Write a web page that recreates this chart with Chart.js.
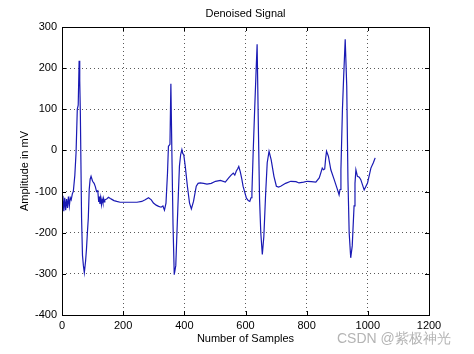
<!DOCTYPE html>
<html>
<head>
<meta charset="utf-8">
<script src="https://cdn.jsdelivr.net/npm/chart.js@4/dist/chart.umd.min.js"></script>
<style>
  html, body { margin: 0; padding: 0; background: #fff; }
  #wrap { position: relative; width: 474px; height: 354px; }
  #mark {
    position: absolute; left: 337px; top: 330px;
    font: 14px "Liberation Sans", Arial, sans-serif; color: #b4b4b4;
    white-space: nowrap;
  }
</style>
</head>
<body>
<div id="wrap">
  <canvas id="sig_chart" width="474" height="354"></canvas>
  <div id="mark">CSDN @紫极神光</div>
</div>
<script>
'use strict'

// sample index and amplitude (mV)
const samples = [0,3,6,9,12,15,18,21,24,27,30,34,37,42,46,50,53,56,58,60,64,67,70,73,77,80,83,86,89,92,95,100,105,109,113,117,120,122,124,126,129,131,134,136,138,140,146,152,158,163,170,179,190,201,220,245,261,272,283,292,299,308,316,324,330,335,340,345,348,353,356,359,363,367,372,379,384,388,392,395,398,403,410,417,423,430,439,445,452,463,474,488,502,518,534,545,553,560,565,570,574,578,583,588,592,597,603,609,614,618,621,625,630,634,638,642,646,650,655,660,666,671,677,684,693,701,708,715,731,748,765,775,790,802,815,830,841,846,851,855,859,862,865,871,879,890,901,906,909,912,917,921,926,931,935,939,944,949,955,958,961,966,972,977,988,999,1010,1018,1024];
const amplitude = [-130,-110,-148,-115,-145,-118,-140,-112,-135,-115,-120,-105,-100,-60,-5,100,110,218,170,90,-165,-255,-280,-297,-270,-240,-200,-165,-95,-70,-63,-75,-80,-88,-100,-98,-125,-112,-130,-115,-132,-118,-128,-117,-125,-120,-118,-114,-117,-119,-122,-124,-126,-126,-126,-126,-124,-120,-115,-120,-128,-133,-136,-138,-135,-145,-128,-55,10,15,162,10,-180,-302,-280,-135,-38,-10,2,-8,-10,-38,-87,-128,-142,-124,-87,-80,-79,-80,-82,-80,-75,-73,-77,-67,-60,-55,-60,-50,-45,-39,-52,-70,-87,-100,-116,-122,-124,-115,-103,-6,100,180,258,60,-120,-200,-253,-209,-103,-30,-2,-23,-63,-87,-89,-87,-80,-75,-76,-79,-77,-75,-76,-77,-67,-55,-43,-47,-45,-20,-2,-14,-47,-71,-96,-108,-95,-47,100,180,270,157,-71,-200,-261,-232,-135,-80,-47,-63,-65,-71,-96,-79,-43,-30,-18];

const x_ticks = [0,200,400,600,800,1000,1200];
const y_ticks = [-400,-300,-200,-100,0,100,200,300];

const font = {family: '"Liberation Sans", Arial, sans-serif', size: 11};

// matlab style box with inward ticks
const boxPlugin = {
    id: 'box',
    afterDraw(chart) {
        const {ctx, chartArea: a, scales} = chart;
        ctx.save();
        ctx.strokeStyle = '#000';
        ctx.lineWidth = 1;
        ctx.setLineDash([]);
        ctx.strokeRect(Math.round(a.left) + 0.5, Math.round(a.top) + 0.5,
            Math.round(a.right - a.left), Math.round(a.bottom - a.top));
        ctx.beginPath();
        x_ticks.forEach(v => {
            const px = Math.round(scales.x.getPixelForValue(v)) + 0.5;
            ctx.moveTo(px, a.bottom); ctx.lineTo(px, a.bottom - 4);
            ctx.moveTo(px, a.top); ctx.lineTo(px, a.top + 4);
        });
        y_ticks.forEach(v => {
            const py = Math.round(scales.y.getPixelForValue(v)) + 0.5;
            ctx.moveTo(a.left, py); ctx.lineTo(a.left + 4, py);
            ctx.moveTo(a.right, py); ctx.lineTo(a.right - 4, py);
        });
        ctx.stroke();
        ctx.restore();
    }
};

const ctx = document.getElementById('sig_chart').getContext('2d');
const chart = new Chart(ctx, {
    type: 'line',
    data: {
        datasets: [{
            data: samples.map((s, i) => ({x: s, y: amplitude[i]})),
            borderColor: '#1a1ab4',
            borderWidth: 1.2,
            pointRadius: 0,
            tension: 0,
            fill: false
        }]
    },
    options: {
        responsive: false,
        animation: false,
        layout: {padding: {left: 0, right: 45, top: 0, bottom: 0}},
        plugins: {
            legend: {display: false},
            tooltip: {enabled: false},
            title: {
                display: true,
                text: 'Denoised Signal',
                color: '#000',
                font: {...font, weight: 'normal'},
                fullSize: false,
                padding: {top: 7, bottom: 6.8}
            }
        },
        scales: {
            x: {
                type: 'linear',
                min: 0, max: 1200,
                afterFit: s => { s.height = 39; },
                afterBuildTicks: s => { s.ticks = x_ticks.map(v => ({value: v})); },
                ticks: {color: '#000', font, padding: 4, maxRotation: 0, callback: v => String(v)},
                grid: {color: 'rgba(0,0,0,0.65)', drawTicks: false},
                border: {display: false, dash: [1, 3]},
                title: {display: true, text: 'Number of Samples', color: '#000', font, padding: {top: 0, bottom: 8}}
            },
            y: {
                min: -400, max: 300,
                afterFit: s => { s.width = 62; },
                afterBuildTicks: s => { s.ticks = y_ticks.map(v => ({value: v})); },
                ticks: {color: '#000', font, padding: 5, callback: v => String(v)},
                grid: {color: 'rgba(0,0,0,0.65)', drawTicks: false},
                border: {display: false, dash: [1, 3]},
                title: {display: true, text: 'Amplitude in mV', color: '#000', font, padding: {top: 18, bottom: 0}}
            }
        }
    },
    plugins: [boxPlugin]
});
</script>
</body>
</html>
